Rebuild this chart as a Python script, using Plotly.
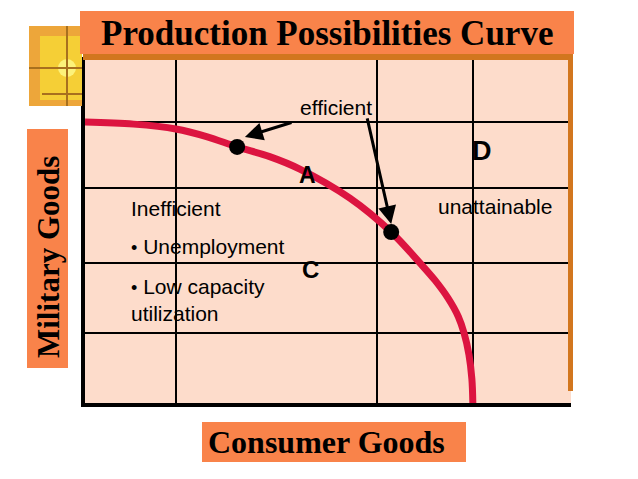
import plotly.graph_objects as go

# production possibilities curve (consumer, military)
curve_x = [0.0, 1.0, 1.87, 2.5, 3.13, 3.8, 4.42, 5.45, 6.30, 6.89, 7.2,
           7.47, 7.68, 7.80, 7.90, 7.96, 7.98]
curve_y = [8.12, 8.06, 7.92, 7.70, 7.40, 7.12, 6.76, 5.92, 4.94, 4.05, 3.55,
           3.03, 2.50, 2.02, 1.40, 0.70, 0.0]

# the two efficient points on the curve
dot_x = [3.13, 6.30]
dot_y = [7.40, 4.94]

# grid lines
grid_x = [1.87, 6.01, 7.98]
grid_y = [2.02, 4.05, 6.21, 8.12]

title_text = 'Production Possibilities Curve'
x_title = 'Consumer Goods'
y_title = 'Military Goods'

# the page puts the plot 8px in from the top-left corner
OFF = 8
W, H = 638, 479
L, R, T, B = 85, 571, 57, 403


def px(x):
    return (x - L) / (R - L)


def py(y):
    return (B - y) / (B - T)


ORANGE = '#F9834A'
FRAME = '#D2761E'
SERIF = 'Liberation Serif, Times New Roman, serif'
SANS = 'Liberation Sans, Arial, sans-serif'

fig = go.Figure()
fig.add_trace(go.Scatter(
    x=curve_x, y=curve_y, mode='lines',
    line=dict(color='#DC1440', width=7, shape='spline', smoothing=1),
    hoverinfo='skip', showlegend=False,
))
fig.add_trace(go.Scatter(
    x=dot_x, y=dot_y, mode='markers',
    marker=dict(color='black', size=16),
    hoverinfo='skip', showlegend=False,
))


def box(x0, x1, y0, y1, color):
    return dict(type='rect', xref='paper', yref='paper',
                x0=px(x0), x1=px(x1), y0=py(y1), y1=py(y0),
                fillcolor=color, line=dict(width=0), layer='above')


def seg(x0, x1, y0, y1, color, width):
    return dict(type='line', xref='paper', yref='paper',
                x0=px(x0), x1=px(x1), y0=py(y0), y1=py(y1),
                line=dict(color=color, width=width), layer='above')


shapes = [
    # decorative picture at top-left
    box(29, 82, 26, 106, '#EDA63A'),
    box(40, 82, 36, 100, '#F5CF36'),
    dict(type='circle', xref='paper', yref='paper',
         x0=px(58), x1=px(76), y0=py(77), y1=py(59),
         fillcolor='#FCF27A', line=dict(width=0), layer='above'),
    seg(67, 67, 26, 106, '#A8701E', 2),
    seg(29, 82, 68, 68, '#A8701E', 2),
    seg(42, 82, 94, 94, '#A8701E', 2),
    # orange frame top and right
    box(83, 573, 53, 60, FRAME),
    box(568, 573, 53, 391, FRAME),
    # title and axis title boxes
    box(80, 574, 11, 54, ORANGE),
    box(27, 68, 129, 368, ORANGE),
    box(202, 466, 422, 462, ORANGE),
]

bullet = "<span style='font-size:18px'>•</span> "

annotations = [
    dict(text=title_text, xref='paper', yref='paper', x=px(327), y=py(33),
         xanchor='center', yanchor='middle', showarrow=False,
         font=dict(family=SERIF, size=35, color='black', weight='bold')),
    dict(text=x_title, xref='paper', yref='paper', x=px(326), y=py(442),
         xanchor='center', yanchor='middle', showarrow=False,
         font=dict(family=SERIF, size=32, color='black', weight='bold')),
    dict(text=y_title, xref='paper', yref='paper', x=px(49), y=py(257), textangle=-90,
         xanchor='center', yanchor='middle', showarrow=False,
         font=dict(family=SERIF, size=31, color='black', weight='bold')),
    dict(text='efficient', x=5.16, y=8.55, showarrow=False,
         font=dict(family=SANS, size=21, color='black')),
    dict(text='unattainable', x=8.44, y=5.69, showarrow=False,
         font=dict(family=SANS, size=21, color='black')),
    dict(text='A', x=4.57, y=6.59, showarrow=False,
         font=dict(family=SANS, size=23, color='black', weight='bold')),
    dict(text='C', x=4.63, y=3.87, showarrow=False,
         font=dict(family=SANS, size=24, color='black', weight='bold')),
    dict(text='D', x=8.17, y=7.28, showarrow=False,
         font=dict(family=SANS, size=27, color='black', weight='bold')),
    dict(text='Inefficient', x=0.9, y=5.61, xanchor='left', showarrow=False,
         font=dict(family=SANS, size=21, color='black')),
    dict(text=bullet + 'Unemployment', x=0.9, y=4.51,
         xanchor='left', showarrow=False,
         font=dict(family=SANS, size=21, color='black')),
    dict(text=bullet + 'Low capacity<br>utilization', x=0.9, y=2.99,
         xanchor='left', align='left', showarrow=False,
         font=dict(family=SANS, size=21, color='black')),
    # arrows from "efficient" to the two points
    dict(text='', x=3.29, y=7.69, ax=4.28, ay=8.12, axref='x', ayref='y',
         showarrow=True, arrowhead=2, arrowsize=1.2, arrowwidth=3, arrowcolor='black'),
    dict(text='', x=6.30, y=5.17, ax=5.80, ay=8.27, axref='x', ayref='y',
         showarrow=True, arrowhead=2, arrowsize=1.2, arrowwidth=3, arrowcolor='black'),
]

axis_common = dict(
    range=[0, 10], showticklabels=False, ticks='',
    showgrid=True, gridcolor='black', gridwidth=2,
    zeroline=False, showline=True, linecolor='black', linewidth=4,
    fixedrange=True,
)

fig.update_layout(
    width=W - OFF, height=H - OFF,
    margin=dict(l=L - OFF, r=W - R, t=T - OFF, b=H - B),
    paper_bgcolor='white',
    plot_bgcolor='#FDDCCB',
    xaxis=dict(tickvals=grid_x, **axis_common),
    yaxis=dict(tickvals=grid_y, **axis_common),
    shapes=shapes,
    annotations=annotations,
    showlegend=False,
)

fig.write_html('out.html')
